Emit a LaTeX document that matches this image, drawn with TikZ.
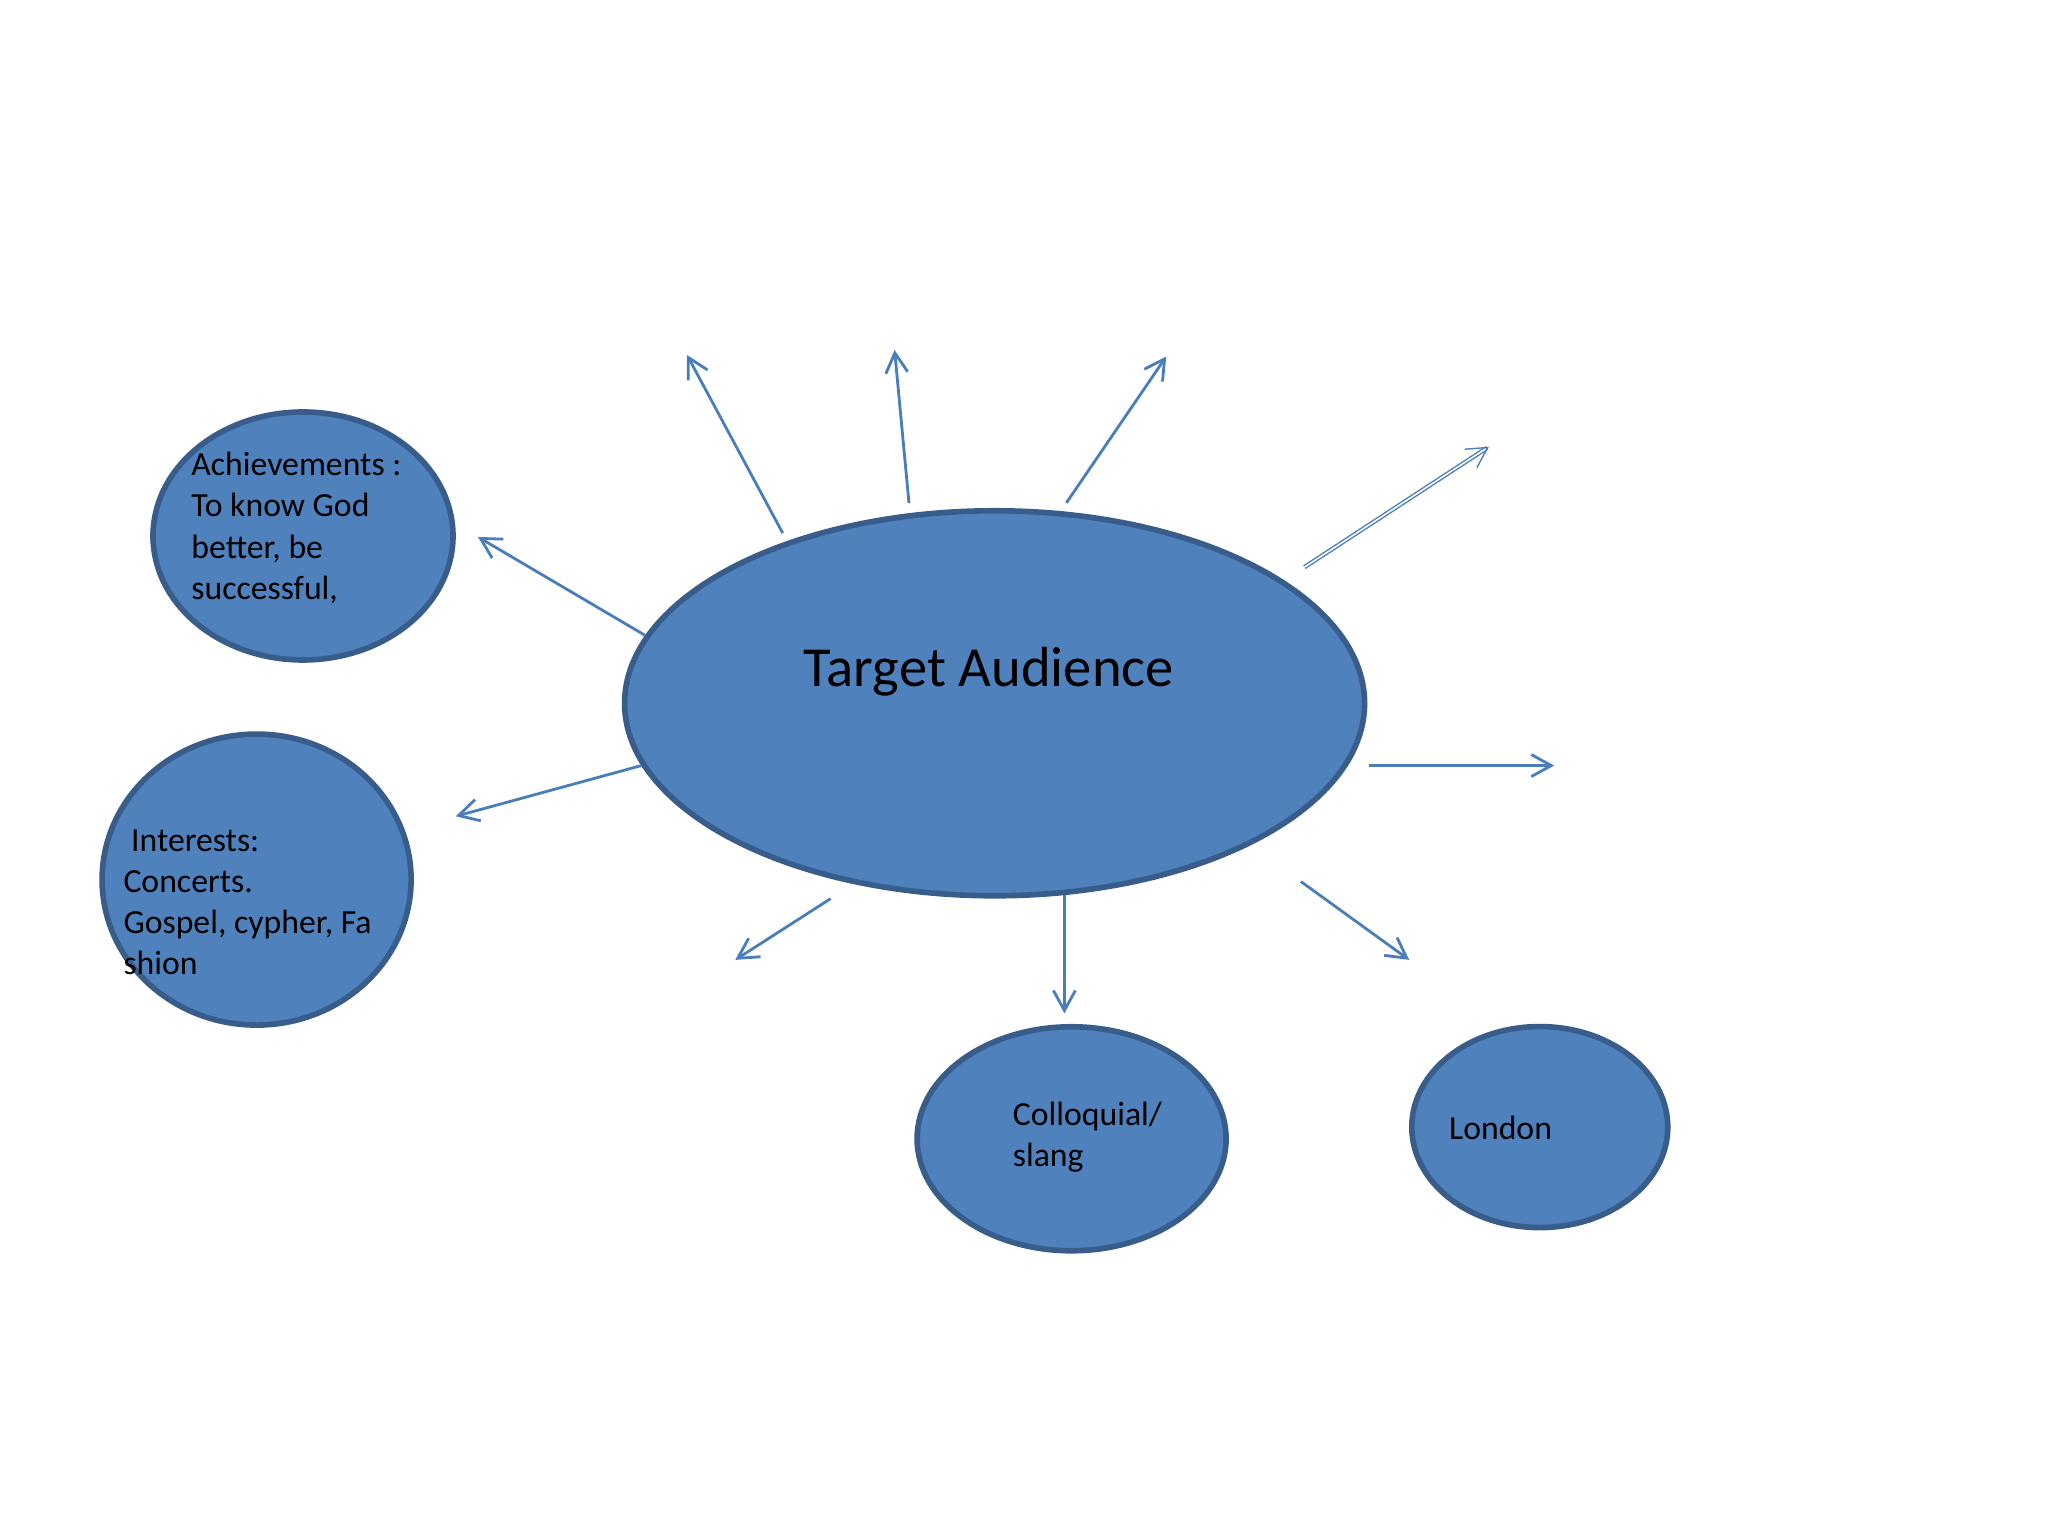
\documentclass[tikz,border=0pt]{standalone}
\usepackage{fontspec}
\setmainfont{Carlito}
\usepackage{xcolor}
\usetikzlibrary{arrows.meta, shapes.geometric}
\definecolor{bubblefill}{RGB}{79,129,189}
\definecolor{bubbleline}{RGB}{56,93,138}
\definecolor{arrowblue}{RGB}{74,126,187}

\begin{document}
\begin{tikzpicture}[
        bubble/.style={ellipse, draw=bubbleline, line width=1.6pt, fill=bubblefill, inner sep=0pt},
        note/.style={anchor=west, align=left, inner sep=0pt, font=\fontsize{9.6}{11.7}\selectfont},
        title/.style={anchor=west, inner sep=0pt, font=\fontsize{16.1}{19}\selectfont},
        arrow/.style={-{Straight Barb[length=2mm, width=2.2mm]}, line width=0.8pt, draw=arrowblue}
    ]
    \useasboundingbox (0,0) rectangle (20.48,15.36);

    \node[bubble, minimum width=7.40cm, minimum height=3.85cm] (ta) at (9.946,8.327) {};
    \node[bubble, minimum width=3.00cm, minimum height=2.48cm] (ach) at (3.03,10.00) {};
    \node[bubble, minimum width=3.09cm, minimum height=2.91cm] (int) at (2.566,6.564) {};
    \node[bubble, minimum width=3.09cm, minimum height=2.24cm] (col) at (10.716,3.972) {};
    \node[bubble, minimum width=2.56cm, minimum height=2.01cm] (lon) at (15.398,4.089) {};

    \node[title] (tatext) at (8.03,8.64) {Target Audience};
    \node[note] (achtext) at (1.907,10.08) {Achievements :\\To know God\\better, be\\successful,};
    \node[note] (inttext) at (1.228,6.34) {~Interests:\\Concerts.\\Gospel, cypher, Fa\\shion};
    \node[note] (coltext) at (10.122,3.985) {Colloquial/\\slang};
    \node[note] (lontext) at (14.484,4.08) {London};

    \coordinate (tipach) at (4.78,9.99);
    \coordinate (tipint) at (4.558,7.197);
    \coordinate (tipnw) at (6.87,11.81);
    \coordinate (tipn) at (8.946,11.86);
    \coordinate (tipne) at (11.663,11.795);
    \coordinate (tipene) at (14.889,10.893);
    \coordinate (tipe) at (15.542,0 |- ta.-10.8);
    \coordinate (tipse) at (14.092,5.761);
    \coordinate (tipcol) at (ta.-70.3 |- 0,5.226);
    \coordinate (tipsw) at (7.353,5.761);

    \draw[arrow] (ta.169.8) -- (tipach);
    \draw[arrow] (ta.190.8) -- (tipint);
    \draw[arrow, shorten <=0.09cm] (ta.142.6) -- (tipnw);
    \draw[arrow, shorten <=0.10cm] (ta.114.1) -- (tipn);
    \draw[arrow, shorten <=0.10cm] (ta.71.1) -- (tipne);
    \draw[arrow, line width=0.4pt, double=white, double distance=0.45pt, shorten <=0.24cm] (ta.23.8) -- (tipene);
    \draw[arrow, shorten <=0.21cm] (ta.-10.8) -- (tipe);
    \draw[arrow, shorten <=0.62cm] (ta.-29.1) -- (tipse);
    \draw[arrow] (ta.-70.3) -- (tipcol);
    \draw[arrow, shorten <=0.27cm] (ta.-128.6) -- (tipsw);
\end{tikzpicture}
\end{document}
